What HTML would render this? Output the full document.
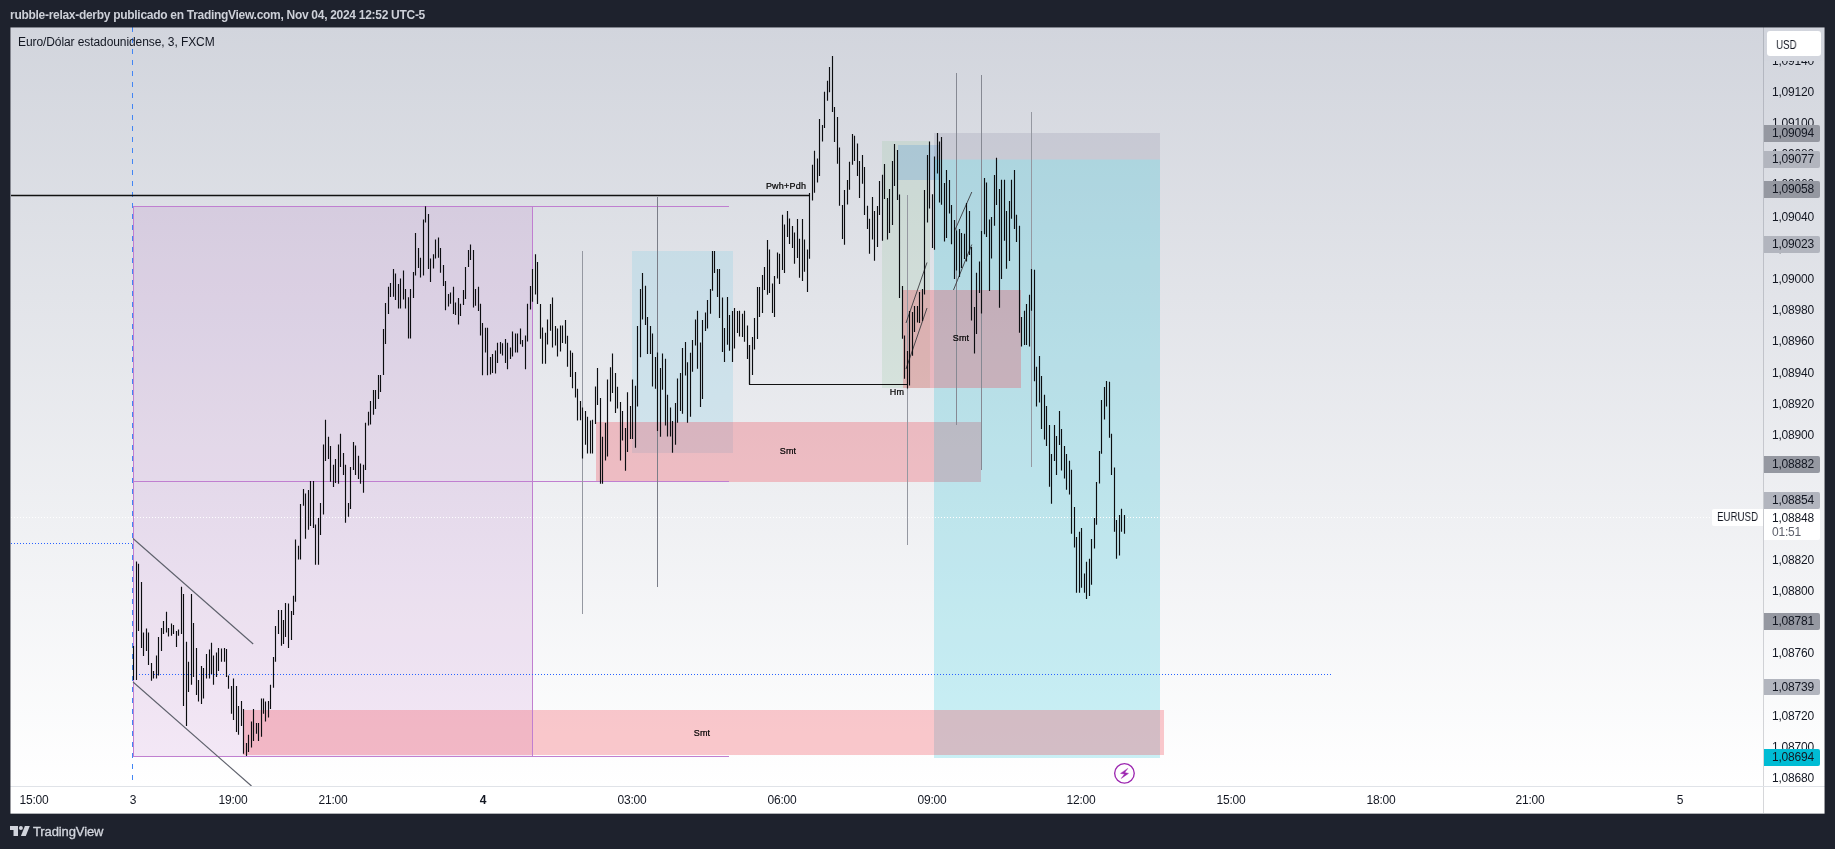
<!DOCTYPE html>
<html><head><meta charset="utf-8"><title>chart</title>
<style>
html,body{margin:0;padding:0}
body{width:1835px;height:849px;background:#1e222d;position:relative;overflow:hidden;font-family:"Liberation Sans",sans-serif}
.hdr{position:absolute;left:10px;top:8px;font-size:12px;line-height:15px;font-weight:bold;color:#cdd0d8;white-space:nowrap;letter-spacing:-0.29px}
#chart{position:absolute;left:10px;top:27px;width:1815px;height:787px;overflow:hidden}
#chart svg{position:absolute;left:0;top:0}
.t,.lb,.sym,.usd,.tm,.an,.leg{position:absolute;white-space:nowrap;color:#131722}
.t,.lb span,.sym span,.usd span,.tm,.an,.leg,.hdr,.brand{will-change:transform}
.ax{font-size:12px;line-height:14px;letter-spacing:-0.22px}
.lb{left:1764px;width:56px;border-radius:0 2px 2px 0;font-size:12px;letter-spacing:-0.22px;line-height:16px}
.lb span{position:absolute;left:8px;top:0}
.lb.cur span{top:1px}
.lb.cur .cd{top:15px;color:#5d606b;left:8px}
.sym{background:#fff;font-size:12px;line-height:17px;letter-spacing:0;border-radius:2px 0 0 2px}
.sym span{position:absolute;left:5.4px;top:0;transform:scaleX(.81);transform-origin:0 50%}
.usd{left:1767px;top:31px;width:54px;height:25px;background:#fff;border-radius:3px;font-size:12px;line-height:26px;letter-spacing:0}
.usd span{position:absolute;left:9px;top:1px;transform:scaleX(.81);transform-origin:0 50%}
.tm{top:793px;width:60px;text-align:center;font-size:12px;line-height:14px;letter-spacing:-0.2px}
.tm.b{font-weight:bold}
.an{font-size:9px;line-height:12px;text-align:center;letter-spacing:0.2px;-webkit-text-stroke:0.22px #000;color:#000}
.leg{left:18px;top:35px;font-size:12px;line-height:14px;letter-spacing:-0.085px}
.logo{position:absolute;left:10px;top:826px}
.brand{position:absolute;left:33px;top:824px;font-size:13px;line-height:16px;color:#d1d4dc;font-weight:normal;-webkit-text-stroke:0.35px #d1d4dc;letter-spacing:-0.11px;white-space:nowrap}
</style></head><body>
<div class="hdr">rubble-relax-derby publicado en TradingView.com, Nov 04, 2024 12:52 UTC-5</div>
<div id="chart"><svg width="1815" height="787" viewBox="0 0 1815 787">
<defs><linearGradient id="bg" x1="0" y1="0" x2="0" y2="1"><stop offset="0" stop-color="#d2d5dd"/><stop offset="1" stop-color="#ffffff"/></linearGradient></defs>
<rect x="0" y="0" width="1815" height="759" fill="url(#bg)"/>
<rect x="0" y="759" width="1815" height="28" fill="#ffffff"/>
<rect x="123.0" y="179.0" width="399.5" height="550.0" fill="rgba(156,39,176,0.10)" />
<rect x="622.0" y="224.0" width="101.0" height="202.0" fill="rgba(135,208,228,0.27)" />
<rect x="586.0" y="395.0" width="385.0" height="60.0" fill="rgba(242,54,69,0.27)" />
<rect x="872.0" y="114.0" width="48.0" height="247.0" fill="rgba(150,200,160,0.22)" />
<rect x="888.0" y="118.0" width="41.0" height="35.0" fill="rgba(80,150,215,0.25)" />
<rect x="924.0" y="106.0" width="226.0" height="26.5" fill="rgba(120,112,140,0.17)" />
<rect x="924.0" y="132.5" width="226.0" height="598.5" fill="rgba(0,188,212,0.205)" />
<rect x="233.0" y="683.0" width="921.0" height="45.0" fill="rgba(242,54,69,0.27)" />
<rect x="893.0" y="263.0" width="118.0" height="98.0" fill="rgba(242,54,69,0.27)" />
<line x1="123.0" y1="179.5" x2="719.0" y2="179.5" stroke="#c07fd0" stroke-width="1" />
<line x1="123.0" y1="454.5" x2="719.0" y2="454.5" stroke="#c07fd0" stroke-width="1" />
<line x1="123.0" y1="729.5" x2="719.0" y2="729.5" stroke="#c07fd0" stroke-width="1" />
<line x1="123.5" y1="179.0" x2="123.5" y2="730.0" stroke="#c07fd0" stroke-width="1" />
<line x1="522.5" y1="179.0" x2="522.5" y2="730.0" stroke="#c07fd0" stroke-width="1" />
<line x1="1" y1="516.5" x2="123" y2="516.5" stroke="#2962ff" stroke-width="1" stroke-dasharray="1 2"/>
<line x1="123" y1="647.5" x2="1321" y2="647.5" stroke="#2962ff" stroke-width="1" stroke-dasharray="1 2"/>
<line x1="1" y1="490.5" x2="1753" y2="490.5" stroke="#ffffff" stroke-width="1" stroke-dasharray="1 2"/>
<line x1="122.5" y1="0" x2="122.5" y2="759" stroke="#4285f4" stroke-width="1" stroke-dasharray="5 6"/>
<line x1="572.5" y1="224.0" x2="572.5" y2="587.0" stroke="#9598a1" stroke-width="1" />
<line x1="647.5" y1="170.0" x2="647.5" y2="560.0" stroke="#7b7e88" stroke-width="1" />
<line x1="897.5" y1="168.0" x2="897.5" y2="518.0" stroke="#9598a1" stroke-width="1" />
<line x1="946.5" y1="46.0" x2="946.5" y2="398.0" stroke="#868993" stroke-width="1" />
<line x1="971.5" y1="48.0" x2="971.5" y2="443.0" stroke="#868993" stroke-width="1" />
<line x1="1021.5" y1="85.0" x2="1021.5" y2="440.0" stroke="#9598a1" stroke-width="1" />
<line x1="1.0" y1="168.5" x2="800.0" y2="168.5" stroke="#111" stroke-width="1.3" />
<line x1="739.0" y1="357.5" x2="898.0" y2="357.5" stroke="#111" stroke-width="1.15" />
<line x1="739.5" y1="318.0" x2="739.5" y2="358.0" stroke="#111" stroke-width="1.15" />
<line x1="123.0" y1="511.5" x2="243.2" y2="617.0" stroke="#5d606b" stroke-width="1.1" />
<line x1="123.0" y1="655.0" x2="241.5" y2="759.0" stroke="#5d606b" stroke-width="1.1" />
<line x1="896.0" y1="296.0" x2="917.0" y2="235.5" stroke="#3a3a3e" stroke-width="0.9" />
<line x1="896.0" y1="342.0" x2="917.0" y2="281.0" stroke="#3a3a3e" stroke-width="0.9" />
<line x1="944.5" y1="204.0" x2="961.8" y2="165.0" stroke="#3a3a3e" stroke-width="0.9" />
<line x1="943.5" y1="263.0" x2="961.8" y2="217.5" stroke="#3a3a3e" stroke-width="0.9" />
<path d="M123.5 619.0V653.0M126.5 534.5V653.0M128.5 536.7V604.0M131.5 555.0V621.0M133.5 605.6V629.0M136.5 601.6V624.0M138.5 605.6V638.0M141.5 636.0V653.7M143.5 644.0V651.6M146.5 628.6V651.6M148.5 610.0V648.5M151.5 601.0V624.0M153.5 594.0V607.0M156.5 584.8V605.6M158.5 601.0V609.6M161.5 596.4V608.7M163.5 598.0V607.0M166.5 604.0V620.0M168.5 602.6V608.7M171.5 559.7V607.0M173.5 567.0V679.0M176.5 614.8V699.0M178.5 634.7V665.0M181.5 567.0V657.7M183.5 596.0V650.0M186.5 621.0V668.0M188.5 653.0V674.6M191.5 639.0V677.0M193.5 641.0V671.5M196.5 627.0V651.6M199.5 622.5V651.6M201.5 615.7V647.0M203.5 628.6V657.7M206.5 625.5V650.0M208.5 621.0V644.0M211.5 621.6V634.7M214.5 621.0V634.7M216.5 621.9V650.0M218.5 648.5V661.7M221.5 659.0V686.8M223.5 651.6V693.0M226.5 659.0V705.0M228.5 679.0V707.7M231.5 674.0V699.0M233.5 682.0V726.7M236.5 716.0V729.0M238.5 707.7V725.0M241.5 694.5V720.5M243.5 682.0V714.0M246.5 696.0V706.7M248.5 696.0V714.0M251.5 671.5V709.8M253.5 671.5V686.8M255.5 674.6V694.5M258.5 674.0V690.5M260.5 657.7V682.0M263.5 630.0V660.8M265.5 599.0V634.7M268.5 583.0V607.0M271.5 583.0V618.8M273.5 593.0V617.0M275.5 576.0V610.0M278.5 576.5V621.0M281.5 584.0V613.0M283.5 568.8V588.0M285.5 512.5V574.8M288.5 518.7V532.5M290.5 477.0V532.5M293.5 462.0V478.8M295.5 466.4V511.7M298.5 463.0V502.7M300.5 454.0V499.0M303.5 454.0V501.0M305.5 497.5V537.7M308.5 491.0V537.7M310.5 476.0V507.9M313.5 417.6V487.6M315.5 392.7V434.0M318.5 409.8V432.0M320.5 419.0V454.7M323.5 437.8V459.9M325.5 432.0V456.0M328.5 417.6V456.8M330.5 406.7V440.0M333.5 426.0V448.0M335.5 437.8V495.7M338.5 476.0V489.7M340.5 440.0V482.0M343.5 415.0V443.0M345.5 418.4V448.0M348.5 428.8V452.0M350.5 436.5V456.8M353.5 437.8V465.8M355.5 395.8V443.0M358.5 384.7V398.4M360.5 374.0V397.6M363.5 363.0V387.8M365.5 363.0V382.0M368.5 348.0V372.0M370.5 348.0V365.0M373.5 302.0V348.0M375.5 276.0V317.0M378.5 259.8V287.0M380.5 256.0V270.0M383.5 242.0V269.7M385.5 246.6V273.0M388.5 257.0V281.6M390.5 251.4V281.6M393.5 243.4V272.5M395.5 262.0V281.6M398.5 270.3V311.5M400.5 262.0V311.5M403.5 245.0V271.0M405.5 206.0V248.5M408.5 221.0V241.0M410.5 230.7V250.5M413.5 192.6V248.5M415.5 179.3V195.4M418.5 187.0V242.0M420.5 231.6V255.0M423.5 227.3V241.5M425.5 212.4V231.6M428.5 210.4V230.7M430.5 221.0V245.7M433.5 238.0V259.0M435.5 254.0V283.3M438.5 267.0V279.6M440.5 265.5V276.8M443.5 259.8V287.0M445.5 275.4V288.0M448.5 271.0V297.4M450.5 276.8V289.0M453.5 263.0V278.0M455.5 240.0V272.0M458.5 223.0V240.0M460.5 217.4V233.0M463.5 223.0V280.5M465.5 262.0V278.8M468.5 259.8V283.9M470.5 276.8V308.4M472.5 296.0V348.3M475.5 300.8V325.4M477.5 300.8V348.3M480.5 330.0V347.4M482.5 327.0V346.0M485.5 323.4V346.6M487.5 315.8V336.0M490.5 315.0V326.8M492.5 316.3V328.5M495.5 312.0V336.0M497.5 315.8V342.3M500.5 320.6V331.9M502.5 304.5V329.6M505.5 306.5V325.4M507.5 306.5V325.4M510.5 301.4V317.2M512.5 313.0V319.7M515.5 308.4V342.3M517.5 276.8V314.4M520.5 259.0V282.4M522.5 242.0V274.8M525.5 227.3V267.5M527.5 235.0V277.0M530.5 277.0V311.7M532.5 300.5V336.7M535.5 305.8V336.7M537.5 292.5V317.6M540.5 277.0V303.7M542.5 270.5V320.5M545.5 299.0V318.5M547.5 301.4V329.4M550.5 298.4V324.4M552.5 298.4V316.0M555.5 293.0V316.7M557.5 308.8V339.7M560.5 323.5V350.0M562.5 325.8V361.2M565.5 345.0V370.6M567.5 361.8V393.6M570.5 374.0V393.3M572.5 380.4V431.6M575.5 384.0V417.8M577.5 389.8V426.6M580.5 393.6V426.6M582.5 392.7V426.6M585.5 359.4V397.0M587.5 341.0V378.0M590.5 371.0V456.7M592.5 409.8V456.7M595.5 395.7V433.4M597.5 352.4V429.6M600.5 340.3V374.5M602.5 326.4V366.0M605.5 346.0V386.0M607.5 359.7V381.5M610.5 375.0V433.4M612.5 384.0V413.4M615.5 401.0V443.7M617.5 365.3V425.0M620.5 379.0V412.0M622.5 352.4V412.0M625.5 358.8V420.7M627.5 299.0V379.5M630.5 262.0V330.3M632.5 246.0V292.5M635.5 258.7V297.9M637.5 290.0V327.0M640.5 299.0V327.0M642.5 306.4V359.4M645.5 330.0V361.8M647.5 325.5V404.0M650.5 341.0V409.8M652.5 326.4V362.7M655.5 331.7V398.6M657.5 367.7V409.5M660.5 380.4V409.5M662.5 394.0V425.7M665.5 376.0V417.8M667.5 351.5V395.7M670.5 346.0V384.0M672.5 321.0V386.8M675.5 315.0V348.5M677.5 335.3V395.7M680.5 325.8V389.8M682.5 313.0V344.7M685.5 292.5V318.5M687.5 283.7V341.8M690.5 315.5V380.0M692.5 293.0V372.0M695.5 285.5V304.0M697.5 273.0V301.6M700.5 262.0V286.7M702.5 224.0V263.7M704.5 224.0V246.0M707.5 242.0V270.0M709.5 242.0V291.0M712.5 270.6V325.0M714.5 301.0V335.0M717.5 270.0V317.7M719.5 288.0V323.8M722.5 284.0V335.0M724.5 281.0V321.4M727.5 284.0V306.0M729.5 283.8V309.5M732.5 286.7V310.0M734.5 283.8V314.7M737.5 298.6V332.0M739.5 318.0V357.0M742.5 310.0V348.0M744.5 291.0V322.6M747.5 260.0V312.0M749.5 260.0V290.0M752.5 248.0V286.0M754.5 240.0V263.0M757.5 213.0V267.7M759.5 222.4V266.0M762.5 256.5V286.0M764.5 249.0V290.0M767.5 225.6V251.6M769.5 226.8V257.0M772.5 187.7V243.0M774.5 197.6V246.0M777.5 184.0V210.0M779.5 191.5V217.0M782.5 198.9V221.0M784.5 205.6V236.7M787.5 192.0V231.0M789.5 211.7V250.8M792.5 192.0V254.0M794.5 212.5V244.7M797.5 222.4V265.0M799.5 166.0V231.8M802.5 137.8V173.6M804.5 123.8V165.8M807.5 131.6V155.4M809.5 92.0V149.0M812.5 98.0V114.5M814.5 64.7V101.0M817.5 53.8V73.8M819.5 40.0V65.2M822.5 28.9V85.0M824.5 80.0V115.0M827.5 90.0V136.8M829.5 120.4V178.8M832.5 178.0V212.0M834.5 163.0V217.7M837.5 152.9V177.5M839.5 134.7V162.7M842.5 107.0V137.8M844.5 108.8V134.0M847.5 116.5V149.0M849.5 134.0V171.0M852.5 128.0V156.7M854.5 140.0V188.0M857.5 178.8V202.0M859.5 191.8V226.8M862.5 170.0V212.5M864.5 184.0V233.8M867.5 179.0V220.0M869.5 154.0V188.0M872.5 147.7V213.8M874.5 137.0V172.0M877.5 171.0V212.5M879.5 162.0V206.0M882.5 134.0V198.0M884.5 117.0V159.0M887.5 123.0V173.0M889.5 167.6V271.0M892.5 259.0V311.7M894.5 308.5V351.7M897.5 324.0V361.6M899.5 284.0V358.6M902.5 285.0V328.8M904.5 279.0V305.0M907.5 279.0V295.6M909.5 265.0V296.0M912.5 262.0V294.0M914.5 163.0V267.6M917.5 128.0V195.6M919.5 114.5V181.5M922.5 167.3V221.0M924.5 129.5V222.8M927.5 106.0V146.5M929.5 114.5V175.5M931.5 110.0V177.7M934.5 156.0V214.5M936.5 143.0V211.0M939.5 153.0V186.5M941.5 178.0V217.3M944.5 193.0V252.0M946.5 203.4V243.6M949.5 202.0V250.0M951.5 206.0V241.0M954.5 206.8V232.0M956.5 176.0V234.5M959.5 184.0V228.0M961.5 220.0V293.6M964.5 280.0V326.6M966.5 245.7V307.0M969.5 234.5V266.0M971.5 204.0V286.4M974.5 151.0V207.3M976.5 155.4V210.0M979.5 192.5V264.0M981.5 190.0V231.4M984.5 148.0V198.7M986.5 130.8V178.0M989.5 162.0V280.7M991.5 152.8V252.0M994.5 152.8V213.8M996.5 184.0V241.8M999.5 174.0V234.0M1001.5 152.8V191.7M1004.5 143.0V202.0M1006.5 187.8V215.0M1009.5 198.7V305.8M1011.5 290.0V319.6M1014.5 283.8V318.0M1016.5 277.0V318.0M1019.5 267.7V319.6M1021.5 242.0V283.8M1024.5 242.8V354.3M1026.5 339.8V379.4M1029.5 329.0V375.6M1031.5 348.9V402.0M1034.5 367.8V412.6M1036.5 379.0V418.9M1039.5 398.0V459.8M1041.5 427.0V476.7M1044.5 398.0V433.9M1046.5 409.0V448.0M1049.5 384.0V418.0M1051.5 402.0V443.6M1054.5 419.0V451.5M1056.5 427.0V462.7M1059.5 433.8V467.6M1061.5 442.8V506.8M1064.5 480.0V520.6M1066.5 510.0V565.7M1069.5 504.7V565.7M1071.5 500.9V560.8M1074.5 546.6V565.7M1076.5 534.8V571.9M1079.5 531.8V568.9M1081.5 512.0V557.7M1084.5 490.9V521.6M1086.5 454.9V497.7M1089.5 424.0V456.6M1091.5 373.0V426.8M1094.5 360.0V392.4M1096.5 354.0V379.4M1099.5 354.8V410.8M1101.5 406.7V448.0M1104.5 440.6V504.7M1106.5 493.0V531.8M1109.5 488.0V528.6M1111.5 481.8V504.7M1114.5 488.0V506.8" stroke="#0c0d10" stroke-width="1.15" fill="none"/>
<circle cx="1114.45" cy="746.35" r="9.8" fill="none" stroke="#9c27b0" stroke-width="1.35"/>
<polygon points="1117.8,741.4 1110.5,746.4 1114.5,747.1 1111.2,751.5 1118.5,746.4 1114.7,745.6" fill="#9c27b0" stroke="#9c27b0" stroke-width="0.45" stroke-linejoin="round"/>
<line x1="1753.5" y1="0.0" x2="1753.5" y2="786.0" stroke="rgba(50,55,70,0.2)" stroke-width="1" />
<line x1="0.0" y1="759.5" x2="1815.0" y2="759.5" stroke="#e0e3e8" stroke-width="1" />
<rect x="0" y="0" width="1" height="787" fill="rgba(30,34,45,0.45)"/>
<rect x="0" y="0" width="1815" height="1" fill="rgba(30,34,45,0.45)"/>
<rect x="1814" y="0" width="1" height="787" fill="rgba(30,34,45,0.45)"/>
<rect x="0" y="786" width="1815" height="1" fill="rgba(30,34,45,0.35)"/>
</svg></div>
<div class="leg">Euro/Dólar estadounidense, 3, FXCM</div>
<div class="t ax" style="left:1772px;top:54px;">1,09140</div>
<div class="t ax" style="left:1772px;top:85px;">1,09120</div>
<div class="t ax" style="left:1772px;top:116px;">1,09100</div>
<div class="t ax" style="left:1772px;top:147px;">1,09080</div>
<div class="t ax" style="left:1772px;top:177px;">1,09060</div>
<div class="t ax" style="left:1772px;top:210px;">1,09040</div>
<div class="t ax" style="left:1772px;top:241px;">1,09020</div>
<div class="t ax" style="left:1772px;top:272px;">1,09000</div>
<div class="t ax" style="left:1772px;top:303px;">1,08980</div>
<div class="t ax" style="left:1772px;top:334px;">1,08960</div>
<div class="t ax" style="left:1772px;top:366px;">1,08940</div>
<div class="t ax" style="left:1772px;top:397px;">1,08920</div>
<div class="t ax" style="left:1772px;top:428px;">1,08900</div>
<div class="t ax" style="left:1772px;top:459px;">1,08880</div>
<div class="t ax" style="left:1772px;top:490px;">1,08860</div>
<div class="t ax" style="left:1772px;top:522px;">1,08840</div>
<div class="t ax" style="left:1772px;top:553px;">1,08820</div>
<div class="t ax" style="left:1772px;top:584px;">1,08800</div>
<div class="t ax" style="left:1772px;top:615px;">1,08780</div>
<div class="t ax" style="left:1772px;top:646px;">1,08760</div>
<div class="t ax" style="left:1772px;top:677px;">1,08740</div>
<div class="t ax" style="left:1772px;top:709px;">1,08720</div>
<div class="t ax" style="left:1772px;top:740px;">1,08700</div>
<div class="t ax" style="left:1772px;top:771px;">1,08680</div>
<div style="position:absolute;left:1764px;top:28px;width:60px;height:32.5px;background:linear-gradient(#d2d5dd,#d3d6de)"></div>
<div class="lb" style="top:125px;height:16.5px;background:#9598a1"><span>1,09094</span></div>
<div class="lb" style="top:151px;height:16.5px;background:#b2b5be"><span>1,09077</span></div>
<div class="lb" style="top:181px;height:16.5px;background:#9598a1"><span>1,09058</span></div>
<div class="lb" style="top:236px;height:16.5px;background:#b2b5be"><span>1,09023</span></div>
<div class="lb" style="top:456px;height:16.5px;background:#9598a1"><span>1,08882</span></div>
<div class="lb" style="top:492px;height:16.5px;background:#b2b5be"><span>1,08854</span></div>
<div class="lb" style="top:613px;height:16.5px;background:#9598a1"><span>1,08781</span></div>
<div class="lb" style="top:678.5px;height:16.5px;background:#b2b5be"><span>1,08739</span></div>
<div class="lb" style="top:749px;height:16.5px;background:#00bcd4"><span>1,08694</span></div>
<div class="lb cur" style="top:509px;height:31px;background:#fff"><span>1,08848</span><span class="cd">01:51</span></div>
<div class="sym" style="left:1712px;top:509px;width:51px;height:17px"><span>EURUSD</span></div>
<div class="usd"><span>USD</span></div>
<div class="tm" style="left:3.6000000000000014px">15:00</div>
<div class="tm" style="left:102.80000000000001px">3</div>
<div class="tm" style="left:203.4px">19:00</div>
<div class="tm" style="left:302.7px">21:00</div>
<div class="tm b" style="left:452.6px">4</div>
<div class="tm" style="left:602px">03:00</div>
<div class="tm" style="left:752px">06:00</div>
<div class="tm" style="left:902px">09:00</div>
<div class="tm" style="left:1051px">12:00</div>
<div class="tm" style="left:1201px">15:00</div>
<div class="tm" style="left:1351px">18:00</div>
<div class="tm" style="left:1500px">21:00</div>
<div class="tm" style="left:1650px">5</div>
<div class="an" style="left:756.0px;top:180.0px;width:60px">Pwh+Pdh</div>
<div class="an" style="left:866.9px;top:386.2px;width:60px">Hm</div>
<div class="an" style="left:931.0px;top:332.3px;width:60px">Smt</div>
<div class="an" style="left:758.0px;top:445.4px;width:60px">Smt</div>
<div class="an" style="left:672.0px;top:726.7px;width:60px">Smt</div>
<svg class="logo" width="20" height="10" viewBox="0 0 20 10"><path d="M0 0H8V10H3.5V4H0Z" fill="#d1d4dc"/><circle cx="10.9" cy="2" r="2" fill="#d1d4dc"/><path d="M14.9 0H19.8L15.8 10H10.9Z" fill="#d1d4dc"/></svg>
<div class="brand">TradingView</div>
</body></html>
